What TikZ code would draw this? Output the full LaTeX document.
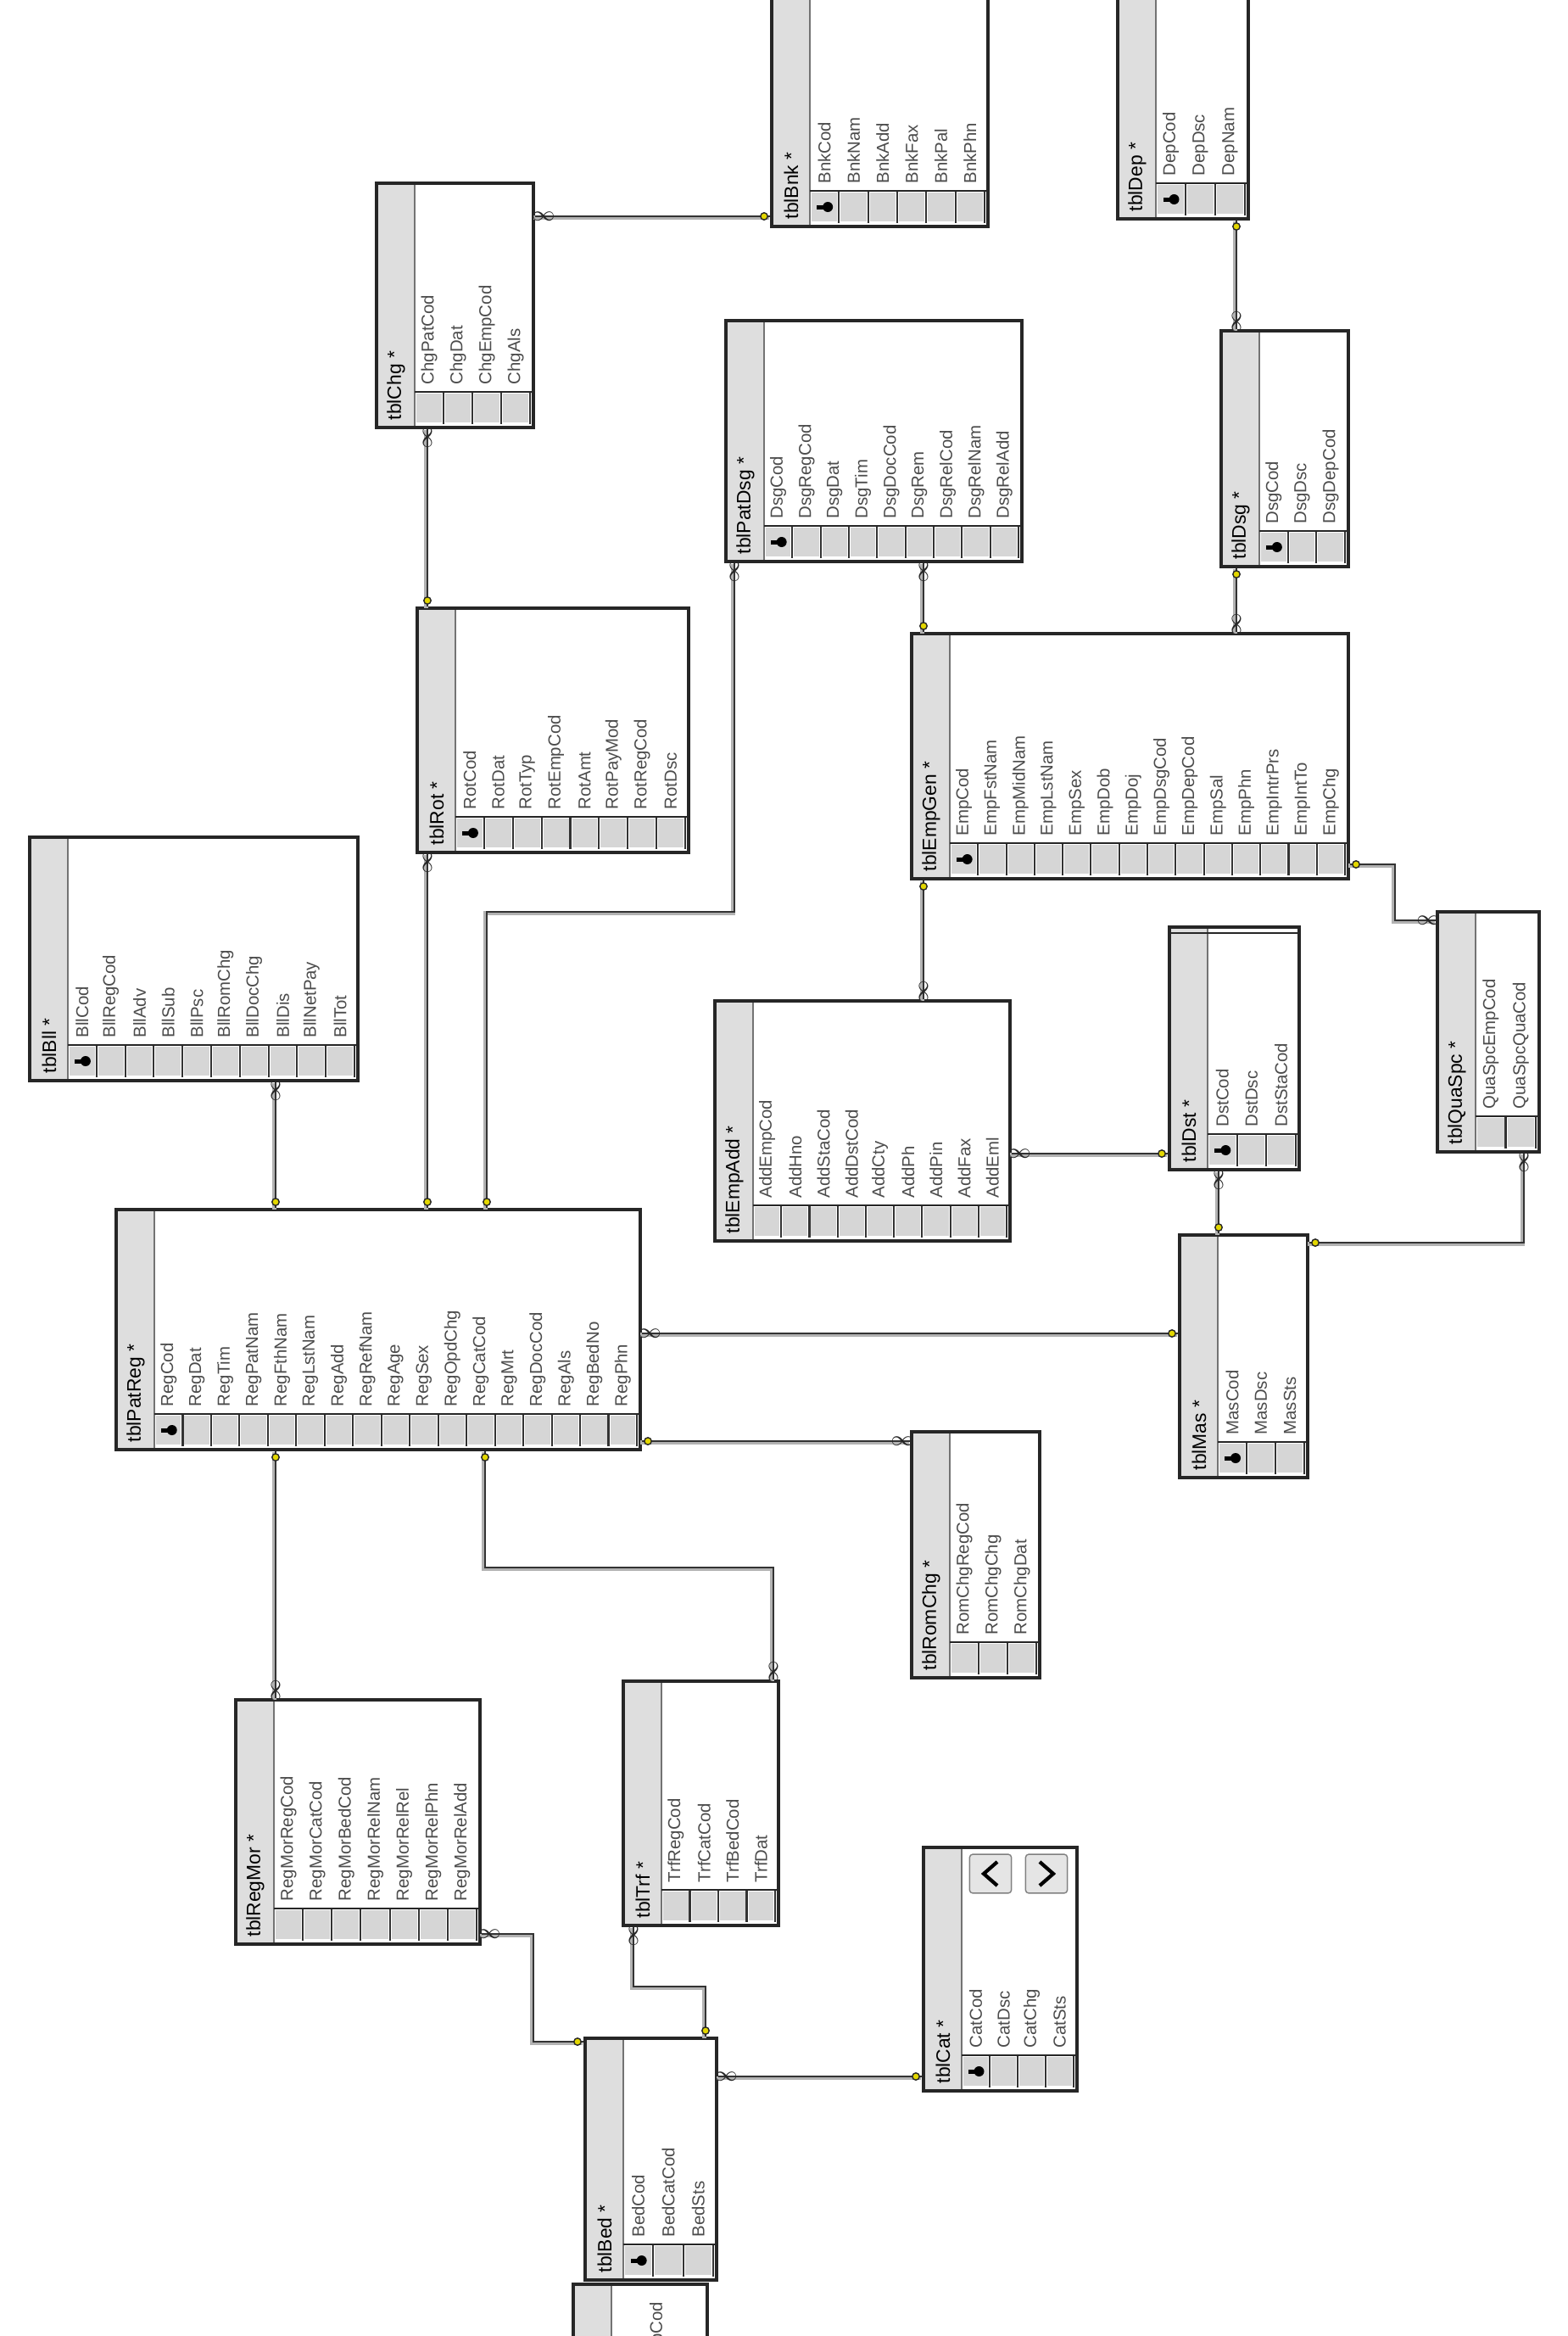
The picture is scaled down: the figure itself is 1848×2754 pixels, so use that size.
\documentclass[tikz,border=0pt]{standalone}
\usepackage{fontspec}
\setmainfont{Liberation Sans}
\usetikzlibrary{fit,positioning}

% one table of the diagram, turned on its side:
% #1 name, #2 #3 #4 #5 box (left, top, right, bottom), #6 title, #7 rows, #8 key, #9 rows
\newcommand{\dbtable}[9]{%
  \fill[white] (#2,#3) rectangle (#4,#5);
  \fill[titlebar] (#2,#3) rectangle ({#2+45},#5);
  \draw[black!55, line width=0.4pt] ({#2+45},#3) -- ({#2+45},#5);
  \pgfmathsetmacro\rowgap{(#4-#2-49)/#7}
  \foreach \rn [count=\i] in {#9} {
    \pgfmathsetmacro\xa{#2+45+(\i-1)*\rowgap}
    \pgfmathsetmacro\xb{\xa+\rowgap}
    \fill[cellbox] ({\xa+2},{#5-40}) rectangle ({\xb-2},{#5-6});
    \draw[black!80, line width=0.6pt] (\xb,{#5-42}) -- (\xb,{#5-4});
    \node[rowname] (#1-\i) at ({(\xa+\xb)/2},{#5-50}) {\rn};
  }
  \draw[black!85, line width=0.8pt] ({#2+45},{#5-42}) -- ({#4-2},{#5-42});
  \ifnum#8=1
    \fill[black] ({#2+45+\rowgap/2-9},{#5-25}) rectangle ({#2+45+\rowgap/2+2},{#5-20});
    \fill[black] ({#2+45+\rowgap/2+4},{#5-23}) circle (6);
  \fi
  \node[tbl, fit={(#2,#3) (#4,#5)}] (#1) {};
  \node[tbltitle] (#1-title) at ({#2+23},{#5-8}) {#6};
}

\begin{document}
\begin{tikzpicture}[x=0.1mm, y=-0.1mm,
    titlebar/.style={fill=black!13},
    cellbox/.style={fill=black!16},
    rowname/.style={rotate=90, anchor=west, inner sep=0pt, text=black!70, font=\fontsize{5.8}{7}\selectfont},
    tbltitle/.style={rotate=90, anchor=west, inner sep=0pt, font=\fontsize{6.5}{7}\selectfont},
    tbl/.style={draw=black!85, line width=0.9pt, inner sep=0pt},
    conn/.style={draw=black!80, line width=0.6pt,
      preaction={draw=black!30, line width=1.3pt, transform canvas={shift={(-0.4pt,-0.5pt)}}}},
    keymk/.style={circle, draw=black!85, fill=yellow!75!olive, line width=0.4pt, inner sep=0pt, minimum size=2.4pt},
    manymk/.style={inner sep=0pt, text=black!85, font=\fontsize{7}{7}\selectfont},
    scrollbtn/.style={draw=black!50, fill=black!10, rounded corners=1pt, minimum width=14pt, minimum height=13pt}]
\useasboundingbox (0,0) rectangle (1848,2754);
\clip (0,0) rectangle (1848,2754);

% tables
\dbtable{bll}{35}{987}{422}{1274}{tblBll *}{10}{1}{BllCod,BllRegCod,BllAdv,BllSub,BllPsc,BllRomChg,BllDocChg,BllDis,BllNetPay,BllTot}
\dbtable{rot}{492}{717}{812}{1005}{tblRot *}{8}{1}{RotCod,RotDat,RotTyp,RotEmpCod,RotAmt,RotPayMod,RotRegCod,RotDsc}
\dbtable{chg}{444}{216}{629}{504}{tblChg *}{4}{0}{ChgPatCod,ChgDat,ChgEmpCod,ChgAls}
\dbtable{bnk}{910}{-20}{1165}{267}{tblBnk *}{6}{1}{BnkCod,BnkNam,BnkAdd,BnkFax,BnkPal,BnkPhn}
\dbtable{dep}{1318}{-20}{1472}{258}{tblDep *}{3}{1}{DepCod,DepDsc,DepNam}
\dbtable{dsg}{1440}{390}{1590}{668}{tblDsg *}{3}{1}{DsgCod,DsgDsc,DsgDepCod}
\dbtable{patdsg}{856}{378}{1205}{662}{tblPatDsg *}{9}{1}{DsgCod,DsgRegCod,DsgDat,DsgTim,DsgDocCod,DsgRem,DsgRelCod,DsgRelNam,DsgRelAdd}
\dbtable{empgen}{1075}{747}{1590}{1036}{tblEmpGen *}{14}{1}{EmpCod,EmpFstNam,EmpMidNam,EmpLstNam,EmpSex,EmpDob,EmpDoj,EmpDsgCod,EmpDepCod,EmpSal,EmpPhn,EmpIntrPrs,EmpIntTo,EmpChg}
\dbtable{empadd}{843}{1180}{1191}{1463}{tblEmpAdd *}{9}{0}{AddEmpCod,AddHno,AddStaCod,AddDstCod,AddCty,AddPh,AddPin,AddFax,AddEml}
\dbtable{dst}{1379}{1093}{1532}{1379}{tblDst *}{3}{1}{DstCod,DstDsc,DstStaCod}
\draw[black!85, line width=0.8pt] (1379,1100) -- (1532,1100);
\dbtable{quaspc}{1695}{1075}{1815}{1358}{tblQuaSpc *}{2}{0}{QuaSpcEmpCod,QuaSpcQuaCod}
\dbtable{patreg}{137}{1426}{755}{1709}{tblPatReg *}{17}{1}{RegCod,RegDat,RegTim,RegPatNam,RegFthNam,RegLstNam,RegAdd,RegRefNam,RegAge,RegSex,RegOpdChg,RegCatCod,RegMrt,RegDocCod,RegAls,RegBedNo,RegPhn}
\dbtable{mas}{1391}{1456}{1542}{1742}{tblMas *}{3}{1}{MasCod,MasDsc,MasSts}
\dbtable{romchg}{1075}{1688}{1226}{1978}{tblRomChg *}{3}{0}{RomChgRegCod,RomChgChg,RomChgDat}
\dbtable{regmor}{278}{2004}{566}{2292}{tblRegMor *}{7}{0}{RegMorRegCod,RegMorCatCod,RegMorBedCod,RegMorRelNam,RegMorRelRel,RegMorRelPhn,RegMorRelAdd}
\dbtable{trf}{735}{1982}{918}{2270}{tblTrf *}{4}{0}{TrfRegCod,TrfCatCod,TrfBedCod,TrfDat}
\dbtable{cat}{1089}{2178}{1270}{2465}{tblCat *}{4}{1}{CatCod,CatDsc,CatChg,CatSts}
\dbtable{bed}{690}{2403}{845}{2688}{tblBed *}{3}{1}{BedCod,BedCatCod,BedSts}
\dbtable{doc}{676}{2693}{834}{2880}{}{3}{1}{DocCod,DocEmpCod,DocFee}

% scroll buttons on tblCat
\node[scrollbtn] (catup) at (1168,2209) {};
\node[scrollbtn] (catdn) at (1234,2209) {};
\draw[line width=1.2pt] (1176,2195) -- (1160,2209) -- (1176,2223);
\draw[line width=1.2pt] (1226,2195) -- (1242,2209) -- (1226,2223);

% bends of the connectors
\coordinate (c1) at (325,0);
\coordinate (c2) at (504,0);
\coordinate (c4) at (0,255);
\coordinate (c5a) at (866,1075);
\coordinate (c5b) at (574,1075);
\coordinate (c6) at (1458,0);
\coordinate (c8) at (1089,0);
\coordinate (c10a) at (1645,1019);
\coordinate (c10b) at (1645,1085);
\coordinate (c11) at (0,1360);
\coordinate (c12) at (1437,0);
\coordinate (c13) at (1797,1465);
\coordinate (c14) at (0,1572);
\coordinate (c15) at (0,1699);
\coordinate (c17a) at (572,1848);
\coordinate (c17b) at (912,1848);
\coordinate (c18a) at (629,2280);
\coordinate (c18b) at (629,2407);
\coordinate (c19a) at (747,2342);
\coordinate (c19b) at (832,2342);
\coordinate (c20) at (0,2448);

% connectors
\draw[conn] (bll.south -| c1) -- (patreg.north -| c1);
\draw[conn] (rot.south -| c2) -- (patreg.north -| c2);
\draw[conn] (chg.south -| c2) -- (rot.north -| c2);
\draw[conn] (chg.east |- c4) -- (bnk.west |- c4);
\draw[conn] (patdsg.south -| c5a) -- (c5a) -- (c5b) -- (patreg.north -| c5b);
\draw[conn] (dep.south -| c6) -- (dsg.north -| c6);
\draw[conn] (dsg.south -| c6) -- (empgen.north -| c6);
\draw[conn] (patdsg.south -| c8) -- (empgen.north -| c8);
\draw[conn] (empgen.south -| c8) -- (empadd.north -| c8);
\draw[conn] (empgen.east |- c10a) -- (c10a) -- (c10b) -- (quaspc.west |- c10b);
\draw[conn] (empadd.east |- c11) -- (dst.west |- c11);
\draw[conn] (dst.south -| c12) -- (mas.north -| c12);
\draw[conn] (quaspc.south -| c13) -- (c13) -- (mas.east |- c13);
\draw[conn] (patreg.east |- c14) -- (mas.west |- c14);
\draw[conn] (patreg.east |- c15) -- (romchg.west |- c15);
\draw[conn] (patreg.south -| c1) -- (regmor.north -| c1);
\draw[conn] (patreg.south -| c17a) -- (c17a) -- (c17b) -- (trf.north -| c17b);
\draw[conn] (regmor.east |- c18a) -- (c18a) -- (c18b) -- (bed.west |- c18b);
\draw[conn] (trf.south -| c19a) -- (c19a) -- (c19b) -- (bed.north -| c19b);
\draw[conn] (bed.east |- c20) -- (cat.west |- c20);

% ends of the connectors
\node[manymk, rotate=90] (m1) at (325,1285) {$\infty$};
\node[keymk] (k1) at (325,1417) {};
\node[manymk, rotate=90] (m2) at (504,1016) {$\infty$};
\node[keymk] (k2) at (504,1417) {};
\node[manymk, rotate=90] (m3) at (504,515) {$\infty$};
\node[keymk] (k3) at (504,708) {};
\node[manymk] (m4) at (641,255) {$\infty$};
\node[keymk] (k4) at (901,255) {};
\node[manymk, rotate=90] (m5) at (866,673) {$\infty$};
\node[keymk] (k5) at (574,1417) {};
\node[keymk] (k6) at (1458,267) {};
\node[manymk, rotate=90] (m6) at (1458,379) {$\infty$};
\node[keymk] (k7) at (1458,677) {};
\node[manymk, rotate=90] (m7) at (1458,736) {$\infty$};
\node[manymk, rotate=90] (m8) at (1089,673) {$\infty$};
\node[keymk] (k8) at (1089,738) {};
\node[keymk] (k9) at (1089,1045) {};
\node[manymk, rotate=90] (m9) at (1089,1169) {$\infty$};
\node[keymk] (k10) at (1599,1019) {};
\node[manymk] (m10) at (1684,1085) {$\infty$};
\node[manymk] (m11) at (1202,1360) {$\infty$};
\node[keymk] (k11) at (1370,1360) {};
\node[manymk, rotate=90] (m12) at (1437,1390) {$\infty$};
\node[keymk] (k12) at (1437,1447) {};
\node[manymk, rotate=90] (m13) at (1797,1369) {$\infty$};
\node[keymk] (k13) at (1551,1465) {};
\node[manymk] (m14) at (766,1572) {$\infty$};
\node[keymk] (k14) at (1382,1572) {};
\node[keymk] (k15) at (764,1699) {};
\node[manymk] (m15) at (1064,1699) {$\infty$};
\node[keymk] (k16) at (325,1718) {};
\node[manymk, rotate=90] (m16) at (325,1993) {$\infty$};
\node[keymk] (k17) at (572,1718) {};
\node[manymk, rotate=90] (m17) at (912,1971) {$\infty$};
\node[manymk] (m18) at (577,2280) {$\infty$};
\node[keymk] (k18) at (681,2407) {};
\node[manymk, rotate=90] (m19) at (747,2281) {$\infty$};
\node[keymk] (k19) at (832,2394) {};
\node[manymk] (m20) at (856,2448) {$\infty$};
\node[keymk] (k20) at (1080,2448) {};
\end{tikzpicture}
\end{document}
